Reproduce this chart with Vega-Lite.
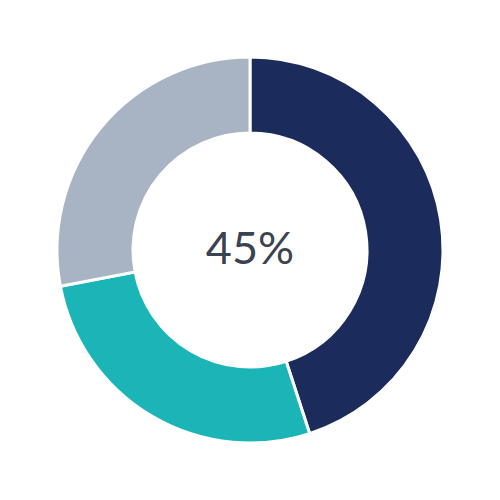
{
  "$schema": "https://vega.github.io/schema/vega-lite/v6.json",
  "width": 500,
  "height": 500,
  "padding": 0,
  "autosize": {"type": "fit", "contains": "padding"},
  "background": "white",
  "view": {"stroke": null},
  "data": {
    "values": [
      {"segment": "A", "value": 45, "rank": 1},
      {"segment": "B", "value": 27, "rank": 2},
      {"segment": "C", "value": 28, "rank": 3}
    ]
  },
  "layer": [
    {
      "mark": {"type": "arc", "outerRadius": 193, "innerRadius": 117, "stroke": "white", "strokeWidth": 3},
      "encoding": {
        "theta": {"field": "value", "type": "quantitative", "stack": true},
        "order": {"field": "rank", "type": "quantitative"},
        "color": {
          "field": "segment",
          "type": "nominal",
          "scale": {"domain": ["A", "B", "C"], "range": ["#1b2b5b", "#1bb5b8", "#a8b4c3"]},
          "legend": null
        }
      }
    },
    {
      "transform": [{"filter": "datum.rank == 1"}],
      "mark": {"type": "text", "font": "Lato", "fontSize": 45, "color": "#3b4350", "baseline": "middle", "align": "center"},
      "encoding": {
        "text": {"value": "45%"}
      }
    }
  ]
}
